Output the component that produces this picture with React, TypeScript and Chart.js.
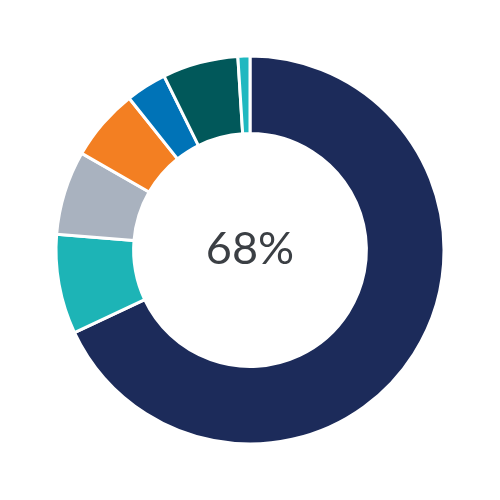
import { useEffect, useRef } from "react";
import { Chart, DoughnutController, ArcElement } from "chart.js";

Chart.register(DoughnutController, ArcElement);

const labels = ["Navy", "Teal", "Gray", "Orange", "Blue", "Dark teal", "Light teal"];
const values = [68, 8.3, 7, 6, 3.4, 6.3, 1];
const colors = ["#1c2b5a", "#1db4b6", "#a9b2bf", "#f37f22", "#0073b7", "#01585a", "#20b8c0"];
const centerLabel = "68%";

export default function App() {
  const ref = useRef<HTMLCanvasElement>(null);

  useEffect(() => {
    if (!ref.current) return;
    const chart = new Chart(ref.current, {
      type: "doughnut",
      data: {
        labels,
        datasets: [{
          data: values,
          backgroundColor: colors,
          borderColor: "#ffffff",
          borderWidth: 3,
        }],
      },
      options: {
        responsive: false,
        animation: false,
        radius: 194,
        cutout: "60%",
        plugins: { legend: { display: false }, tooltip: { enabled: false } },
      },
    });
    return () => { chart.destroy(); };
  }, []);

  return (
    <div style={{ position: "absolute", left: 0, top: 0, width: 500, height: 500, background: "#fff" }}>
      <canvas ref={ref} width={500} height={500} style={{ width: 500, height: 500 }} />
      <div style={{
        position: "absolute", left: 0, top: 222, width: 500, textAlign: "center",
        fontFamily: "Lato", fontWeight: 400, fontSize: 45, lineHeight: "50px", color: "#3b3f44",
      }}>{centerLabel}</div>
    </div>
  );
}
